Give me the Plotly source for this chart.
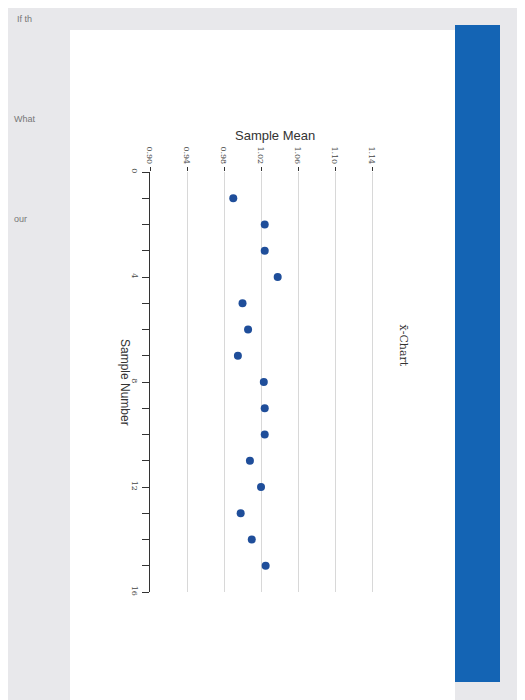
import plotly.graph_objects as go

sample_number = [1, 2, 3, 4, 5, 6, 7, 8, 9, 10, 11, 12, 13, 14, 15]
sample_mean = [0.99, 1.024, 1.024, 1.038, 1.0, 1.006, 0.995, 1.023, 1.024, 1.024,
               1.008, 1.02, 0.998, 1.01, 1.025]
mean_ticks = [0.90, 0.94, 0.98, 1.02, 1.06, 1.10, 1.14]
number_ticks = [0, 4, 8, 12, 16]

W, H = 525, 700
OFF = 8  # page offset seen in the render
L, T = 150 - OFF, 172 - OFF
pw, ph = 235, 420
R, B = W - L - pw, H - T - ph


def px(x):
    return (x - OFF - L) / pw


def py(y):
    return (T + ph + OFF - y) / ph


fig = go.Figure()
fig.add_trace(go.Scatter(
    x=sample_mean, y=sample_number, mode='markers',
    marker=dict(color='#1f4e9a', size=8), showlegend=False,
))

# photographed screen: grey page, white card, blue band
fig.add_shape(type='rect', xref='paper', yref='paper', layer='below',
              x0=px(70), x1=px(455), y0=py(708), y1=py(30),
              fillcolor='white', line_width=0)
fig.add_shape(type='rect', xref='paper', yref='paper', layer='below',
              x0=px(455), x1=px(500), y0=py(682), y1=py(25),
              fillcolor='#1464b4', line_width=0)

fig.update_xaxes(range=[0.90, 1.154], tickvals=mean_ticks,
                 ticktext=['%.2f' % v for v in mean_ticks], side='top',
                 tickangle=90, showgrid=True, gridcolor='#d8d8d8',
                 ticks='outside', ticklen=4, tickcolor='#333',
                 showline=False, zeroline=False,
                 tickfont=dict(family='DejaVu Serif', size=8, color='#444'))
fig.update_yaxes(range=[16, 0], tickvals=number_ticks, tickangle=90,
                 showgrid=False, zeroline=False, showline=True, linecolor='#333',
                 ticks='outside', ticklen=7, tickcolor='#333',
                 minor=dict(dtick=1, ticks='outside', ticklen=7, tickcolor='#333'),
                 tickfont=dict(family='DejaVu Serif', size=8, color='#444'))

fig.add_annotation(xref='paper', yref='paper', x=px(275), y=py(126),
                   text='Sample Mean', showarrow=False,
                   font=dict(family='Liberation Sans', size=13, color='#333'))
fig.add_annotation(xref='paper', yref='paper', x=px(116), y=py(382),
                   text='Sample Number', textangle=90, showarrow=False,
                   font=dict(family='Liberation Sans', size=12, color='#333'))
fig.add_annotation(xref='paper', yref='paper', x=px(412), y=py(345),
                   text='x̄-Chart', textangle=90, showarrow=False,
                   font=dict(family='DejaVu Serif', size=11, color='#333'))
for t, x, y in [('If th', 15, 12), ('What', 12, 112), ('our', 12, 212)]:
    fig.add_annotation(xref='paper', yref='paper', x=px(x), y=py(y), text=t,
                       showarrow=False,
                       font=dict(family='Liberation Sans', size=9, color='#777'))

fig.update_layout(width=W, height=H, margin=dict(l=L, r=R, t=T, b=B),
                  paper_bgcolor='#e8e8eb', plot_bgcolor='white')
fig.write_html('out.html')
